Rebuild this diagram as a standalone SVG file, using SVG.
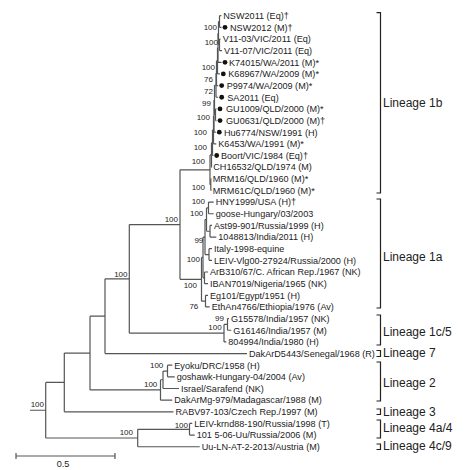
<svg xmlns="http://www.w3.org/2000/svg" width="474" height="470" viewBox="0 0 474 470">
<style>
.br{fill:none;stroke:#555;stroke-width:1.2}
.bk{fill:none;stroke:#222;stroke-width:1.2}
.lf{font-family:"Liberation Sans",Arial,sans-serif;font-size:9.1px;fill:#222}
.bs{font-family:"Liberation Sans",Arial,sans-serif;font-size:8px;fill:#222;text-anchor:end}
.ln{font-family:"Liberation Sans",Arial,sans-serif;font-size:12px;fill:#222}
.dot{fill:#111}
</style>
<rect width="474" height="470" fill="#fff"/>
<g id="connectors" class="br">
<path d="M30 410.23H45.7M45.7 382.44V438.01M45.7 382.44H64.3M45.7 438.01H137.7"/>
<path d="M64.3 353.08V411.8M64.3 353.08H90M64.3 411.8H173.5"/>
<path d="M90 316.2V389.96M90 316.2H105M90 389.96H160.5"/>
<path d="M105 278.85V353.55M105 278.85H129.3M105 353.55H247"/>
<path d="M129.3 224.53V333.16M129.3 224.53H180M129.3 333.16H224"/>
<path d="M180 169.78V279.28M180 169.78H210M180 279.28H201.5"/>
<path d="M224 324.43V341.9M224 324.43H227.5M224 341.9H226.3"/>
<path d="M227.5 318.6V330.25M227.5 318.6H229M227.5 330.25H231.3"/>
<path d="M160.5 379.76V400.15M160.5 379.76H163M160.5 400.15H172.3"/>
<path d="M163 371.03V388.5M163 371.03H167.5M163 388.5H179"/>
<path d="M167.5 365.2V376.85M167.5 365.2H172.3M167.5 376.85H174.7"/>
<path d="M137.7 429.28V446.75M137.7 429.28H189.5M137.7 446.75H199.7"/>
<path d="M189.5 423.45V435.1M189.5 423.45H192.3M189.5 435.1H194.7"/>
<path d="M201.5 257.44V301.13M201.5 257.44H203M201.5 301.13H205.5"/>
<path d="M203 237.05V277.83M203 237.05H205M203 277.83H204.5"/>
<path d="M204.5 272V283.65M204.5 272H208M204.5 283.65H208"/>
<path d="M205.5 295.3V306.95M205.5 295.3H208M205.5 306.95H209.7"/>
<path d="M205 219.58V254.53M205 219.58H206.5M205 254.53H209"/>
<path d="M209 248.7V260.35M209 248.7H212M209 260.35H212"/>
<path d="M206.5 207.93V231.23M206.5 207.93H208.5M206.5 231.23H210"/>
<path d="M208.5 202.1V213.75M208.5 202.1H213.7M208.5 213.75H213.7"/>
<path d="M210 225.4V237.05M210 225.4H212M210 237.05H216.3"/>
<path d="M210 154.94V184.63M210 154.94H211.5M210 184.63H210.8"/>
<path d="M210.8 178.8V190.45M210.8 178.8H211.5M210.8 190.45H211.5"/>
<path d="M211.5 142.74V167.15M211.5 142.74H212.5M211.5 167.15H212"/>
<path d="M212.5 129.97V155.5M212.5 129.97H213.5M212.5 155.5H213.5"/>
<path d="M213.5 116.09V143.85M213.5 116.09H214M213.5 143.85H216.3"/>
<path d="M214 99.98V132.2M214 99.98H214.5M214 132.2H215.8"/>
<path d="M214.5 85.24V114.73M214.5 85.24H216M214.5 114.73H215.5"/>
<path d="M215.5 108.9V120.55M215.5 108.9H216.5M215.5 120.55H216.5"/>
<path d="M216 73.22V97.25M216 73.22H216.5M216 97.25H218.2"/>
<path d="M216.5 60.85V85.6M216.5 60.85H217.5M216.5 85.6H218.2"/>
<path d="M217.5 47.74V73.95M217.5 47.74H218M217.5 73.95H219.8"/>
<path d="M218 33.18V62.3M218 33.18H218.5M218 62.3H221.5"/>
<path d="M218.5 21.53V44.83M218.5 21.53H219.5M218.5 44.83H219.5"/>
<path d="M219.5 15.7V27.35M219.5 15.7H221.3M219.5 27.35H221.5"/>
<path d="M219.5 39V50.65M219.5 39H220.7M219.5 50.65H222"/>
</g>
<g id="bootstrap">
<text class="bs" x="217" y="30.2">100</text>
<text class="bs" x="218" y="44.9">100</text>
<text class="bs" x="215" y="69.9">100</text>
<text class="bs" x="213" y="81.9">76</text>
<text class="bs" x="213" y="93.9">72</text>
<text class="bs" x="211" y="105.9">99</text>
<text class="bs" x="210" y="119.9">100</text>
<text class="bs" x="207" y="134.9">100</text>
<text class="bs" x="207" y="149.9">100</text>
<text class="bs" x="205" y="163.9">100</text>
<text class="bs" x="205" y="190.2">100</text>
<text class="bs" x="205" y="203.6">100</text>
<text class="bs" x="203.3" y="216.2">100</text>
<text class="bs" x="203.3" y="242.9">99</text>
<text class="bs" x="200" y="262.2">100</text>
<text class="bs" x="197" y="288.4">100</text>
<text class="bs" x="198.3" y="308.9">76</text>
<text class="bs" x="178" y="221.9">100</text>
<text class="bs" x="127.5" y="276.9">100</text>
<text class="bs" x="224" y="320.6">99</text>
<text class="bs" x="221.7" y="330.2">100</text>
<text class="bs" x="163.3" y="367.9">100</text>
<text class="bs" x="157.3" y="386.9">100</text>
<text class="bs" x="188" y="427.9">100</text>
<text class="bs" x="133" y="434.9">100</text>
<text class="bs" x="44" y="406.9">100</text>
</g>
<g id="leaf-NSW2011"><text class="lf" x="223.3" y="19">NSW2011 (Eq)†</text></g>
<g id="leaf-NSW2012"><circle class="dot" cx="225" cy="27.35" r="2.4"/><text class="lf" x="230" y="30.65">NSW2012 (M)†</text></g>
<g id="leaf-V11-03"><text class="lf" x="222.7" y="42.3">V11-03/VIC/2011 (Eq)</text></g>
<g id="leaf-V11-07"><text class="lf" x="224" y="53.95">V11-07/VIC/2011 (Eq)</text></g>
<g id="leaf-K74015"><circle class="dot" cx="225" cy="62.3" r="2.4"/><text class="lf" x="229" y="65.6">K74015/WA/2011 (M)*</text></g>
<g id="leaf-K68967"><circle class="dot" cx="223.3" cy="73.95" r="2.4"/><text class="lf" x="228.3" y="77.25">K68967/WA/2009 (M)*</text></g>
<g id="leaf-P9974"><circle class="dot" cx="221.7" cy="85.6" r="2.4"/><text class="lf" x="226.7" y="88.9">P9974/WA/2009 (M)*</text></g>
<g id="leaf-SA2011"><circle class="dot" cx="221.7" cy="97.25" r="2.4"/><text class="lf" x="227.3" y="100.55">SA2011 (Eq)</text></g>
<g id="leaf-GU1009"><circle class="dot" cx="220" cy="108.9" r="2.4"/><text class="lf" x="226" y="112.2">GU1009/QLD/2000 (M)*</text></g>
<g id="leaf-GU0631"><circle class="dot" cx="220" cy="120.55" r="2.4"/><text class="lf" x="226" y="123.85">GU0631/QLD/2000 (M)†</text></g>
<g id="leaf-Hu6774"><circle class="dot" cx="219.3" cy="132.2" r="2.4"/><text class="lf" x="224" y="135.5">Hu6774/NSW/1991 (H)</text></g>
<g id="leaf-K6453"><text class="lf" x="218.3" y="147.15">K6453/WA/1991 (M)*</text></g>
<g id="leaf-Boort"><circle class="dot" cx="216.7" cy="155.5" r="2.4"/><text class="lf" x="221" y="158.8">Boort/VIC/1984 (Eq)†</text></g>
<g id="leaf-CH16532"><text class="lf" x="213.3" y="170.45">CH16532/QLD/1974 (M)</text></g>
<g id="leaf-MRM16"><text class="lf" x="212.7" y="182.1">MRM16/QLD/1960 (M)*</text></g>
<g id="leaf-MRM61C"><text class="lf" x="212.7" y="193.75">MRM61C/QLD/1960 (M)*</text></g>
<g id="leaf-HNY1999"><text class="lf" x="215.7" y="205.4">HNY1999/USA (H)†</text></g>
<g id="leaf-goose"><text class="lf" x="215.7" y="217.05">goose-Hungary/03/2003</text></g>
<g id="leaf-Ast99"><text class="lf" x="214" y="228.7">Ast99-901/Russia/1999 (H)</text></g>
<g id="leaf-1048813"><text class="lf" x="218.3" y="240.35">1048813/India/2011 (H)</text></g>
<g id="leaf-Italy"><text class="lf" x="214" y="252">Italy-1998-equine</text></g>
<g id="leaf-LEIV-Vlg"><text class="lf" x="214" y="263.65">LEIV-Vlg00-27924/Russia/2000 (H)</text></g>
<g id="leaf-ArB310"><text class="lf" x="210" y="275.3">ArB310/67/C. African Rep./1967 (NK)</text></g>
<g id="leaf-IBAN7019"><text class="lf" x="210" y="286.95">IBAN7019/Nigeria/1965 (NK)</text></g>
<g id="leaf-Eg101"><text class="lf" x="210" y="298.6">Eg101/Egypt/1951 (H)</text></g>
<g id="leaf-EthAn4766"><text class="lf" x="211.7" y="310.25">EthAn4766/Ethiopia/1976 (Av)</text></g>
<g id="leaf-G15578"><text class="lf" x="231" y="321.9">G15578/India/1957 (NK)</text></g>
<g id="leaf-G16146"><text class="lf" x="233.3" y="333.55">G16146/India/1957 (M)</text></g>
<g id="leaf-804994"><text class="lf" x="228.3" y="345.2">804994/India/1980 (H)</text></g>
<g id="leaf-DakArD5443"><text class="lf" x="249" y="356.85">DakArD5443/Senegal/1968 (R)</text></g>
<g id="leaf-Eyoku"><text class="lf" x="174.3" y="368.5">Eyoku/DRC/1958 (H)</text></g>
<g id="leaf-goshawk"><text class="lf" x="176.7" y="380.15">goshawk-Hungary-04/2004 (Av)</text></g>
<g id="leaf-Israel"><text class="lf" x="181" y="391.8">Israel/Sarafend (NK)</text></g>
<g id="leaf-DakArMg"><text class="lf" x="174.3" y="403.45">DakArMg-979/Madagascar/1988 (M)</text></g>
<g id="leaf-RABV97"><text class="lf" x="175.5" y="415.1">RABV97-103/Czech Rep./1997 (M)</text></g>
<g id="leaf-LEIV-krnd"><text class="lf" x="194.3" y="426.75">LEIV-krnd88-190/Russia/1998 (T)</text></g>
<g id="leaf-101-5-06"><text class="lf" x="196.7" y="438.4">101 5-06-Uu/Russia/2006 (M)</text></g>
<g id="leaf-Uu-LN"><text class="lf" x="201.7" y="450.05">Uu-LN-AT-2-2013/Austria (M)</text></g>
<g id="lineage-1b"><path class="bk" d="M376.5 12.7H380.5V193H376.5"/><text class="ln" x="383" y="107.3">Lineage 1b</text></g>
<g id="lineage-1a"><path class="bk" d="M376.5 199H380.5V308H376.5"/><text class="ln" x="383" y="261.3">Lineage 1a</text></g>
<g id="lineage-1c5"><path class="bk" d="M376.5 315H380.5V345H376.5"/><text class="ln" x="383" y="336.3">Lineage 1c/5</text></g>
<g id="lineage-7"><path class="bk" d="M376.5 350.5H380.5V356.5H376.5"/><text class="ln" x="383" y="357">Lineage 7</text></g>
<g id="lineage-2"><path class="bk" d="M376.5 362H380.5V401H376.5"/><text class="ln" x="383" y="387.3">Lineage 2</text></g>
<g id="lineage-3"><path class="bk" d="M376.5 409H380.5V414.5H376.5"/><text class="ln" x="383" y="416.3">Lineage 3</text></g>
<g id="lineage-4a4"><path class="bk" d="M376.5 420H380.5V438H376.5"/><text class="ln" x="383" y="432.3">Lineage 4a/4</text></g>
<g id="lineage-4c9"><path class="bk" d="M376.5 444H380.5V449.5H376.5"/><text class="ln" x="383" y="450.3">Lineage 4c/9</text></g>
<g id="scale-bar"><path class="br" d="M16 456H115M16 453V459M115 453V459"/><text class="lf" x="63" y="467" text-anchor="middle">0.5</text></g>
</svg>
